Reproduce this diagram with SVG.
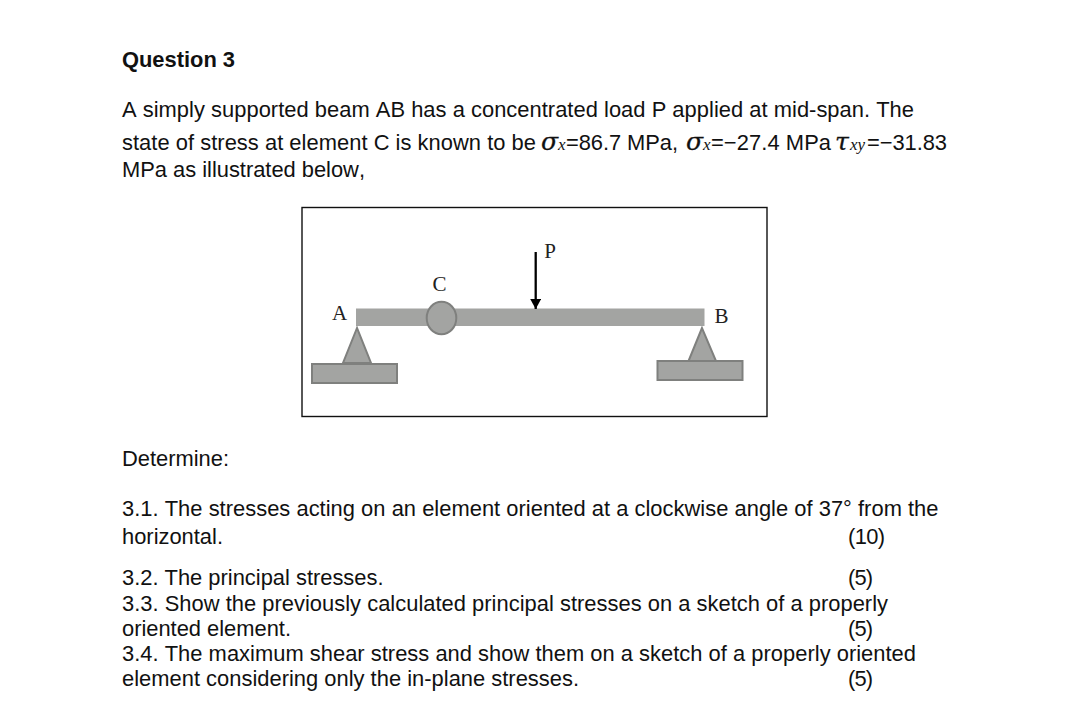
<svg xmlns="http://www.w3.org/2000/svg" width="1080" height="716" viewBox="0 0 1080 716">
<style>
.t{font-family:"Liberation Sans",Arial,sans-serif;font-size:21.9px;fill:#111;font-kerning:none}
.b{font-weight:bold}
.s{font-family:"Liberation Serif","Times New Roman",serif;font-size:21px;fill:#222}
.m{font-family:"DejaVu Serif","Liberation Serif",serif;font-style:italic;font-size:25px;fill:#111;stroke:#111;stroke-width:.3}
.i{font-family:"Liberation Serif",serif;font-style:italic;font-size:17px;fill:#111}
.g{fill:#a3a4a2;stroke:#7f807e;stroke-width:2}
</style>
<defs><marker id="ah" markerUnits="userSpaceOnUse" markerWidth="11" markerHeight="11" refX="10" refY="5.500" orient="auto"><path d="M0 0L10 5.500L0 11Z" fill="#000"/></marker></defs>
<rect width="1080" height="716" fill="#fff"/>
<g id="text">
<text class="t b" x="122" y="67" textLength="113">Question 3</text>
<text class="t" x="122" y="117" textLength="792">A simply supported beam AB has a concentrated load P applied at mid-span. The</text>
<text class="t" x="122" y="150" textLength="414">state of stress at element C is known to be</text>
<text class="m" x="541" y="150">σ</text><text class="i" x="558" y="150">x</text><text class="t" x="566" y="150" textLength="112">=86.7 MPa,</text>
<text class="m" x="686" y="150">σ</text><text class="i" x="703" y="150">x</text><text class="t" x="711" y="150" textLength="120">=−27.4 MPa</text>
<text class="m" x="835" y="150">τ</text><text class="i" x="850" y="150">xy</text><text class="t" x="867" y="150" textLength="80">=−31.83</text>
<text class="t" x="122" y="177" textLength="243">MPa as illustrated below,</text>
<text class="t" x="122" y="466" textLength="107">Determine:</text>
<text class="t" x="122" y="516" textLength="816.5">3.1. The stresses acting on an element oriented at a clockwise angle of 37° from the</text>
<text class="t" x="122" y="544" textLength="101">horizontal.</text><text class="t" x="848" y="544" textLength="37">(10)</text>
<text class="t" x="122" y="585" textLength="261.500">3.2. The principal stresses.</text><text class="t" x="848" y="585" textLength="25">(5)</text>
<text class="t" x="122" y="611" textLength="766">3.3. Show the previously calculated principal stresses on a sketch of a properly</text>
<text class="t" x="122" y="636" textLength="169">oriented element.</text><text class="t" x="848" y="636" textLength="25">(5)</text>
<text class="t" x="122" y="661" textLength="794">3.4. The maximum shear stress and show them on a sketch of a properly oriented</text>
<text class="t" x="122" y="686" textLength="457">element considering only the in-plane stresses.</text><text class="t" x="848" y="686" textLength="25">(5)</text>
</g>
<rect id="frame" x="302" y="207.500" width="465" height="209" fill="#fff" stroke="#111" stroke-width="1.400"/>
<g id="beam"><rect x="356" y="308.500" width="348.500" height="17.500" fill="#a3a4a2"/></g>
<g id="element-C"><ellipse class="g" cx="441.500" cy="318" rx="14.800" ry="16.300"/><text class="s" x="439.500" y="291" text-anchor="middle">C</text></g>
<g id="support-A"><path class="g" d="M357 328L343 363H371Z"/><rect class="g" x="312" y="364" width="85" height="19"/><text class="s" x="339.500" y="320" text-anchor="middle">A</text></g>
<g id="support-B"><path class="g" d="M702 328L688.500 361H716Z"/><rect class="g" x="657.500" y="361" width="85" height="19"/><text class="s" x="721.500" y="323" text-anchor="middle">B</text></g>
<g id="connectors"><line id="load-P" x1="535.700" y1="252" x2="535.700" y2="309" stroke="#000" stroke-width="2.300" marker-end="url(#ah)"/></g>
<g id="label-P"><text class="s" x="550" y="258" text-anchor="middle">P</text></g>
</svg>
